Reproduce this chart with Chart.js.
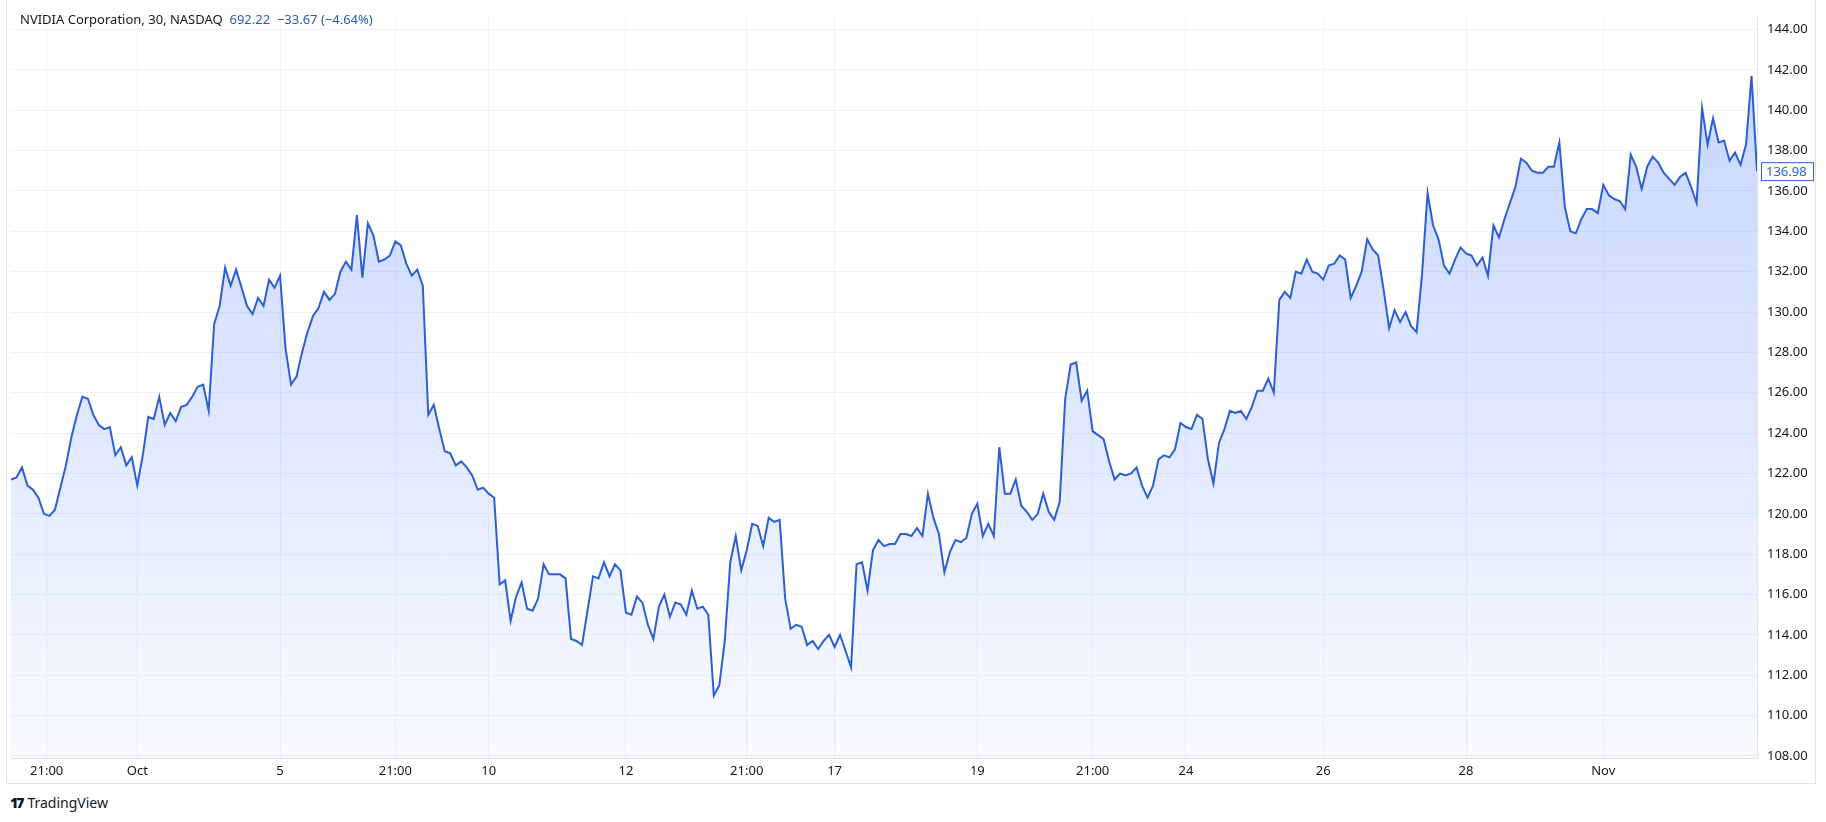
<!DOCTYPE html>
<html>
<head>
<meta charset="utf-8">
<script src="https://cdn.jsdelivr.net/npm/chart.js@4"></script>
<style>
  body { margin: 0; background: #fff; font-family: "Noto Sans", "DejaVu Sans", sans-serif; }
  #wrap { position: absolute; left: 6px; top: 0; width: 1810px; height: 784px; border: 1px solid #e0e3eb; border-top: none; box-sizing: border-box; }
  #title { position: absolute; left: 20px; top: 10px; font-size: 13px; color: #131722; }
  #title span { color: #2a5fa8; }
  #logo { position: absolute; left: 10px; top: 793px; font-size: 14px; color: #131722; }
  #logo b { font-weight: 900; letter-spacing: -2px; margin-right: 5px; }
</style>
</head>
<body>
<div id="wrap"><canvas id="chart"></canvas></div>
<div id="title">NVIDIA Corporation, 30, NASDAQ&nbsp; <span>692.22&nbsp; −33.67 (−4.64%)</span></div>
<div id="logo"><b>17</b>TradingView</div>
<script>
const prices = [
  121.7, 121.8, 122.3, 121.4, 121.2, 120.8, 120.0, 119.9, 120.2, 121.3, 122.4, 123.8, 124.9, 125.8, 125.7, 124.9,
  124.4, 124.2, 124.3, 122.9, 123.3, 122.4, 122.8, 121.4, 122.9, 124.8, 124.7, 125.8, 124.4, 125.0, 124.6, 125.3,
  125.4, 125.8, 126.3, 126.4, 125.1, 129.4, 130.3, 132.2, 131.3, 132.1, 131.2, 130.3, 129.9, 130.7, 130.3, 131.6,
  131.2, 131.8, 128.2, 126.4, 126.8, 128.0, 129.0, 129.8, 130.2, 131.0, 130.6, 130.9, 132.0, 132.5, 132.1, 134.8,
  131.7, 134.4, 133.8, 132.5, 132.6, 132.8, 133.5, 133.3, 132.4, 131.8, 132.1, 131.3, 124.9, 125.4, 124.2, 123.1,
  123.0, 122.4, 122.6, 122.3, 121.9, 121.2, 121.3, 121.0, 120.8, 116.5, 116.7, 114.7, 115.9, 116.6, 115.3, 115.2,
  115.8, 117.5, 117.0, 117.0, 117.0, 116.8, 113.8, 113.7, 113.5, 115.2, 116.9, 116.8, 117.6, 116.9, 117.5, 117.2,
  115.1, 115.0, 115.9, 115.6, 114.5, 113.8, 115.4, 116.0, 114.9, 115.6, 115.5, 115.0, 116.2, 115.3, 115.4, 115.0,
  111.0, 111.5, 113.7, 117.6, 118.9, 117.2, 118.2, 119.5, 119.4, 118.4, 119.8, 119.6, 119.7, 115.8, 114.3, 114.5,
  114.4, 113.5, 113.7, 113.3, 113.7, 114.0, 113.4, 114.0, 113.2, 112.4, 117.5, 117.6, 116.2, 118.2, 118.7, 118.4,
  118.5, 118.5, 119.0, 119.0, 118.9, 119.3, 118.9, 121.0, 119.8, 119.0, 117.1, 118.1, 118.7, 118.6, 118.8, 120.0,
  120.5, 118.9, 119.5, 118.9, 123.3, 121.0, 121.0, 121.7, 120.4, 120.1, 119.7, 120.0, 121.0, 120.1, 119.7, 120.6,
  125.7, 127.4, 127.5, 125.6, 126.1, 124.1, 123.9, 123.7, 122.6, 121.7, 122.0, 121.9, 122.0, 122.3, 121.4, 120.8,
  121.4, 122.7, 122.9, 122.8, 123.2, 124.5, 124.3, 124.2, 124.9, 124.7, 122.7, 121.5, 123.5, 124.2, 125.1, 125.0,
  125.1, 124.7, 125.3, 126.1, 126.1, 126.7, 126.0, 130.6, 131.0, 130.7, 132.0, 131.9, 132.6, 132.0, 131.9, 131.6,
  132.3, 132.4, 132.8, 132.6, 130.7, 131.3, 132.0, 133.6, 133.1, 132.8, 131.1, 129.2, 130.1, 129.5, 130.0, 129.3,
  129.0, 131.9, 135.9, 134.3, 133.6, 132.3, 131.9, 132.6, 133.2, 132.9, 132.8, 132.3, 132.7, 131.8, 134.3, 133.7,
  134.6, 135.4, 136.2, 137.6, 137.4, 137.0, 136.9, 136.9, 137.2, 137.2, 138.4, 135.2, 134.0, 133.9, 134.6, 135.1,
  135.1, 134.9, 136.3, 135.8, 135.6, 135.5, 135.1, 137.8, 137.2, 136.1, 137.2, 137.7, 137.4, 136.9, 136.6, 136.3,
  136.7, 136.9, 136.2, 135.4, 140.1, 138.3, 139.6, 138.4, 138.5, 137.5, 137.9, 137.3, 138.3, 141.7, 136.98
];
const tickIndex = [6.5, 23, 49, 70, 87, 112, 134, 150, 176, 197, 214, 239, 265, 290];
const tickLabels = ["21:00", "Oct", "5", "21:00", "10", "12", "21:00", "17", "19", "21:00", "24", "26", "28", "Nov"];
const priceTicks = [108, 110, 112, 114, 116, 118, 120, 122, 124, 126, 128, 130, 132, 134, 136, 138, 140, 142, 144];
const lastPrice = 136.98;

const lineColor = "#2c5fd4";

const lastLabel = {
  id: "lastLabel",
  afterDraw(chart) {
    const { ctx, scales } = chart;
    const y = scales.y.getPixelForValue(lastPrice);
    const x = scales.y.left + 4;
    ctx.save();
    ctx.fillStyle = "#fff";
    ctx.strokeStyle = lineColor;
    ctx.lineWidth = 1;
    ctx.fillRect(x, y - 9, 52, 18);
    ctx.strokeRect(x + 0.5, y - 8.5, 52, 18);
    ctx.fillStyle = lineColor;
    ctx.font = "13px 'Noto Sans', sans-serif";
    ctx.textBaseline = "middle";
    ctx.fillText(lastPrice.toFixed(2), x + 5, y + 1);
    ctx.restore();
  },
};

const canvas = document.getElementById("chart");
canvas.width = 1808;
canvas.height = 784;

new Chart(canvas, {
  type: "line",
  data: {
    labels: prices.map((_, i) => i),
    datasets: [
      {
        data: prices.map((p, i) => ({ x: i, y: p })),
        borderColor: lineColor,
        borderWidth: 2,
        pointRadius: 0,
        tension: 0,
        fill: "start",
        backgroundColor: (c) => {
          const area = c.chart.chartArea;
          if (!area) return "rgba(41,98,255,0.15)";
          const g = c.chart.ctx.createLinearGradient(0, area.top, 0, area.bottom);
          g.addColorStop(0, "rgba(41,98,255,0.28)");
          g.addColorStop(1, "rgba(41,98,255,0.03)");
          return g;
        },
      },
    ],
  },
  options: {
    responsive: false,
    animation: false,
    layout: { padding: { left: 4, top: 0, right: 0, bottom: 0 } },
    plugins: { legend: { display: false }, tooltip: { enabled: false } },
    scales: {
      x: {
        type: "linear",
        min: 0,
        max: prices.length - 1,
        afterBuildTicks: (axis) => { axis.ticks = tickIndex.map((v) => ({ value: v })); },
        ticks: {
          autoSkip: false,
          maxRotation: 0,
          color: "#131722",
          font: { size: 13, family: "'Noto Sans', sans-serif" },
          padding: 5,
          callback: (v) => tickLabels[tickIndex.indexOf(v)],
        },
        grid: { color: "#f0f3fa", drawTicks: false },
        border: { color: "#e0e3eb" },
      },
      y: {
        position: "right",
        min: 107.88,
        max: 144.58,
        afterBuildTicks: (axis) => { axis.ticks = priceTicks.map((v) => ({ value: v })); },
        afterFit: (axis) => { axis.width = 58; },
        ticks: {
          color: "#131722",
          font: { size: 13, family: "'Noto Sans', sans-serif" },
          padding: 10,
          callback: (v) => v.toFixed(2),
        },
        grid: { color: "#f0f3fa", drawTicks: false },
        border: { color: "#e0e3eb" },
      },
    },
  },
  plugins: [lastLabel],
});
</script>
</body>
</html>
